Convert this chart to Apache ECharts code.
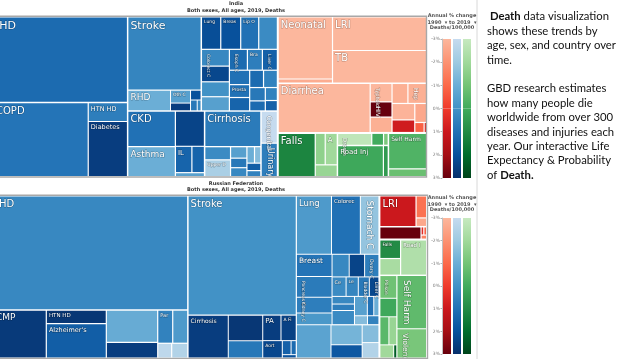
<!DOCTYPE html>
<html><head><meta charset="utf-8">
<script src="https://cdn.jsdelivr.net/npm/echarts@6/dist/echarts.min.js"></script>
<style>html,body{margin:0;padding:0;background:#fff;overflow:hidden}#c{width:638px;height:359px}</style>
</head><body><div id="c"></div>
<script>
// ---------------- DATA ----------------
// India, both sexes, all ages, 2019: deaths (relative units), annual % change 1990-2019, group path
const indiaNames = ['IHD','COPD','HTN HD','Diabetes',
 'Stroke','RHD','Oth Cardio','A Fib','Aort An','CMP','Endocar',
 'Lung C','Breast C','Lip Oral C','Oth Neo','Colorect C','Stomach C','Leukemia','Cervix C','Esoph C','Brain C','Liver C','Gallbladder C','Prostate C','Pancreas C','Ovary C','Lymphoma','Larynx C','Kidney C','Bladder C','Myeloma',
 'CKD','Asthma',"Alzheimer's",'ILD','Epilepsy','Pneumocon',
 'Cirrhosis','Ileus','Upper Digest','Oth Digest','Pancreatitis','Gallbladder','Hernia','Appendicitis','Vasc Intest','IBD',
 'Congenital','Urinary',
 'Neonatal','Maternal','LRI','TB',
 'Diarrhea','Typhoid','HIV','Malaria','Encephalitis','Hep','Nutri Def','Dengue','Oth Infect','Meningitis','Rabies',
 'Falls','Fire','Animal','Poison','Drown','Conflict','Oth Inj','Road Inj','Env Heat','Self Harm','Violence'];
const indiaDeaths = [10956,6720,708,2074,
 5146,852,250,150,100,70,40,
 600,620,560,580,450,420,400,380,360,300,300,280,250,260,230,230,200,150,150,120,
 1615,1372,978,418,318,110,
 1914,325,416,180,150,140,120,100,100,80,
 506,528,
 3240,216,3040,2945,
 4343,387,320,324,306,360,360,276,216,90,24,
 1560,306,370,252,406,140,56,1386,147,1320,286];
const indiaChange = [1.2,0.9,0.6,2.6,
 0.4,-1.0,-0.5,2.6,2.0,0.8,0.3,
 2.1,2.0,1.0,0.2,0.3,2.3,0.0,-0.5,1.2,0.6,1.5,1.0,1.0,1.4,1.2,0.5,0.8,1.2,0.5,1.5,
 1.0,-1.0,2.4,1.4,1.4,-0.5,
 0.7,0.2,-2.3,-0.5,0.8,0.3,-1.0,-1.5,1.6,0.5,
 -3,0.6,
 -3,-2.7,-3,-3,
 -3,-3,3,-2.8,-2.8,-2.8,-2.9,0.9,-2.6,-0.8,0.6,
 1.2,-1.6,-2.0,-1.8,-2.8,0.0,-1.2,0.1,0.5,-0.3,-0.8];
const indiaPath = [
 'NCD','NCD>LL','NCD>LL>Upper','NCD>LL>Upper',
 'NCD>StrokeG','NCD>StrokeG>CvdSmall','NCD>StrokeG>CvdSmall','NCD>StrokeG>CvdSmall','NCD>StrokeG>CvdSmall','NCD>StrokeG>CvdSmall','NCD>StrokeG>CvdSmall',
 'NCD>Neo','NCD>Neo','NCD>Neo','NCD>Neo','NCD>Neo','NCD>Neo','NCD>Neo','NCD>Neo','NCD>Neo','NCD>Neo','NCD>Neo','NCD>Neo','NCD>Neo','NCD>Neo','NCD>Neo','NCD>Neo','NCD>Neo','NCD>Neo','NCD>Neo','NCD>Neo',
 'NCD>CKDA','NCD>CKDA','NCD>CKDA','NCD>CKDA','NCD>CKDA','NCD>CKDA',
 'NCD>Digest','NCD>Digest','NCD>Digest','NCD>Digest','NCD>Digest','NCD>Digest','NCD>Digest','NCD>Digest','NCD>Digest','NCD>Digest',
 'NCD>Oth','NCD>Oth',
 'Comm>Top>NeoMat','Comm>Top>NeoMat','Comm>Top>LRITB','Comm>Top>LRITB',
 'Comm>Bottom','Comm>Bottom','Comm>Bottom','Comm>Bottom','Comm>Bottom','Comm>Bottom','Comm>Bottom','Comm>Bottom','Comm>Bottom','Comm>Bottom','Comm>Bottom',
 'Inj>FallsG','Inj>FallsG','Inj>FallsG','Inj>FallsG','Inj>DrownG','Inj>DrownG','Inj>DrownG','Inj>RoadG','Inj>RoadG','Inj>SelfG','Inj>SelfG'];

// Russian Federation, both sexes, all ages, 2019
const russiaNames = ['IHD','CMP','HTN HD',"Alzheimer's",'COPD','Diabetes',"Parkinson's",'CKD','Oth Cardio','Asthma',
 'Stroke',
 'Cirrhosis','Alcohol Use','Pancreatitis','PAD','A Fib','Aort An','Ileus','Drug Use','Endocar',
 'Lung C','Colorect C','Stomach C','Breast C','Pancreas C','Kidney C','Prostate C','Larynx C','Esoph C','Ovary C','Cervix C','Leukemia','Bladder C','Liver C','Lip Oral C','Brain C','Oth Neo','Lymphoma','Myeloma','Skin C','Thyroid C','Mesothel',
 'Oth NCD','Upper Digest','Urinary','Skin','Congenital',
 'LRI','TB','URI','HIV','Hep','Meningitis','Oth Infect',
 'Falls','Drown','Road Inj','Poison','Fire','Env Heat','Other Inj','Alcohol Pois','Conflict','Self Harm','Violence'];
const russiaDeaths = [21294,2450,780,2000,1600,780,480,480,200,230,
 12402,
 1665,855,574,450,376,329,119,70,45,
 1972,1624,1044,760,713,546,400,374,336,312,264,230,208,180,165,140,306,240,120,96,112,98,
 1110,602,400,288,250,
 1100,230,90,510,23,23,23,
 380,340,900,380,310,250,220,180,40,1550,850];
const russiaChange = [0.3,2.7,2.8,1.6,-0.9,2.6,0.5,-0.3,-2.8,-2.5,
 0.0,
 2.6,2.8,0.8,2.6,2.5,2.3,1.5,1.2,2.0,
 -0.3,1.0,-1.8,0.9,0.7,0.6,-0.2,0.3,2.4,0.6,0.2,0.4,0.8,2.3,0.3,0.6,0.2,-0.5,1.0,-1.0,-1.5,0.5,
 -0.6,-1.2,1.8,-1.5,-2.5,
 1.0,-1.2,-2.6,3.0,0.4,-0.8,-1.6,
 1.0,-2.2,-2.4,-0.9,0.1,-0.5,-1.8,-2.0,2.4,-0.6,-1.1];
const russiaPath = [
 'NCD','NCD>LB','NCD>LB','NCD>LB','NCD>LB','NCD>LB','NCD>LB','NCD>LB','NCD>LB','NCD>LB',
 'NCD>Rest',
 'NCD>Rest>BM','NCD>Rest>BM','NCD>Rest>BM','NCD>Rest>BM','NCD>Rest>BM','NCD>Rest>BM','NCD>Rest>BM','NCD>Rest>BM','NCD>Rest>BM',
 'NCD>Rest>Neo','NCD>Rest>Neo','NCD>Rest>Neo','NCD>Rest>Neo','NCD>Rest>Neo','NCD>Rest>Neo','NCD>Rest>Neo','NCD>Rest>Neo','NCD>Rest>Neo','NCD>Rest>Neo','NCD>Rest>Neo','NCD>Rest>Neo','NCD>Rest>Neo','NCD>Rest>Neo','NCD>Rest>Neo','NCD>Rest>Neo','NCD>Rest>Neo','NCD>Rest>Neo','NCD>Rest>Neo','NCD>Rest>Neo','NCD>Rest>Neo','NCD>Rest>Neo',
 'NCD>Rest>NB','NCD>Rest>NB','NCD>Rest>NB','NCD>Rest>NB','NCD>Rest>NB',
 'Comm>RespG','Comm>RespG','Comm>RespG','Comm>HIVG','Comm>HIVG','Comm>HIVG','Comm>HIVG',
 'Inj>TopG','Inj>TopG','Inj>TopG','Inj>BottomG>LeftSmall','Inj>BottomG>LeftSmall','Inj>BottomG>LeftSmall','Inj>BottomG>LeftSmall','Inj>BottomG>LeftSmall','Inj>BottomG>LeftSmall','Inj>BottomG>SelfG','Inj>BottomG>SelfG'];

// colour-scale legend
const legendCats = ['Communicable','Non-communicable','Injuries'];
const legendTicks = ['-3%','-2%','-1%','0%','1%','2%','3%'];
const legendMin = -3, legendMax = 3;

// ---------------- STYLE CONFIG ----------------
const palettes = {
  Comm: ['#fcb79d','#fc9272','#fb6a4a','#ef3b2c','#cb181d','#a50f15','#67000d'],
  NCD:  ['#c6dbef','#9ecae1','#6baed6','#4292c6','#2171b5','#08519c','#08306b'],
  Inj:  ['#c7e9c0','#a1d99b','#74c476','#41ab5d','#238b45','#006d2c','#00441b']
};
const indiaLabel = {'IHD':11,'Stroke':11,'HTN HD':6.5,'Diabetes':6.5,'RHD':9,'Oth Cardio':4.5,'A Fib':4.5,'Lung C':4.5,'Breast C':4.5,'Brain C':4.5,'Prostate C':4.5,'Lip Oral C':4.5,
 'CKD':10,'COPD':10,'Asthma':9,'ILD':7,'Cirrhosis':10,'Upper Digest':4.5,'Ileus':9,
 'Neonatal':10,'LRI':10,'TB':10,'Diarrhea':10,'Falls':10,'Animal':7,'Road Inj':7,'Self Harm':6};
const indiaRot = {'Urinary':8,'Congenital':6.5,'HIV':6,'Typhoid':5,'Hep':6,'Drown':5.5,'Colorect C':4.5,'Liver C':4.5,'Esoph C':4.5};
const russiaLabel = {'IHD':10,'Stroke':10,'HTN HD':5.5,'CMP':9,'A Fib':4.5,'Aort An':4.5,'PAD':7,'Lung C':8.5,'Colorect C':5.5,'Breast C':7.5,
 'Leukemia':4.5,'Brain C':4.5,'Cervix C':5,'Lip Oral C':4.5,'Cirrhosis':6,"Alzheimer's":6.5,"Parkinson's":5,'LRI':10,'HIV':10,'Falls':4.5,'Road Inj':5.5};
const russiaRot = {'Stomach C':9,'Self Harm':9,'Violence':7.5,'Pancreas C':4.5,'Ovary C':5,'Bladder C':4.5,'Kidney C':4.5,'Liver C':5,'Poison':4.5};

function hexRgb(h){const n=parseInt(h.slice(1),16);return [n>>16&255,n>>8&255,n&255];}
function colorFor(pal,v){
  const t=Math.max(0,Math.min(6,v-legendMin));const i=Math.min(5,Math.floor(t));const f=t-i;
  const a=hexRgb(pal[i]),b=hexRgb(pal[i+1]);
  return 'rgb('+a.map((x,k)=>Math.round(x+(b[k]-x)*f)).join(',')+')';
}
function buildTree(names,deaths,change,paths,labs,rots){
  const root={children:[]};
  names.forEach((n,i)=>{
    const parts=paths[i].split('>');
    let node=root;
    parts.forEach(g=>{
      let c=node.children.find(x=>x.children&&x.name===g);
      if(!c){c={name:g,children:[]};node.children.push(c);}
      node=c;
    });
    const leaf={name:n,value:deaths[i],itemStyle:{color:colorFor(palettes[parts[0]],change[i])}};
    if(labs[n]) leaf.label={show:true,fontSize:labs[n],lineHeight:labs[n]*1.15};
    else if(rots[n]) leaf.label={show:true,fontSize:rots[n],lineHeight:rots[n]*1.15,rotate:-90,position:[1.5,2],align:'left',verticalAlign:'bottom',overflow:'none'};
    node.children.push(leaf);
  });
  return root.children;
}

const levels=[
  {itemStyle:{borderWidth:0,gapWidth:2,borderColor:'#fff'}},
  {itemStyle:{borderWidth:0,gapWidth:1.5,borderColor:'#fff'}},
  {itemStyle:{borderWidth:0,gapWidth:1.2,borderColor:'#fff'}},
  {itemStyle:{borderWidth:0,gapWidth:1,borderColor:'#fff'}},
  {itemStyle:{borderWidth:0,gapWidth:1,borderColor:'#fff'}},
  {itemStyle:{borderWidth:0,gapWidth:1,borderColor:'#fff'}}
];
function treemap(data,top,height,ratio){
  return {type:'treemap',left:-6,top:top,width:432,height:height,roam:false,nodeClick:false,silent:true,
    sort:false,squareRatio:ratio,breadcrumb:{show:false},levels:levels,
    label:{show:false,position:'insideTopLeft',color:'#fff',fontFamily:'DejaVu Sans',padding:[2,2],
      textBorderColor:'rgba(0,0,0,0.28)',textBorderWidth:1,overflow:'truncate',ellipsis:''},
    upperLabel:{show:false},data:data};
}
function grad(pal,neg){
  const s=neg?pal.slice(0,4):pal.slice(3,7);
  return new echarts.graphic.LinearGradient(0,0,0,1,s.map((c,i)=>({offset:i/3,color:c})));
}
const palList=[palettes.Comm,palettes.NCD,palettes.Inj];
function legendSeries(g){
  return [true,false].map(neg=>({type:'bar',xAxisIndex:g,yAxisIndex:g,stack:'lg'+g,barWidth:8,silent:true,
    data:legendCats.map((c,i)=>({value:neg?legendMin:legendMax,itemStyle:{color:grad(palList[i],neg)}}))}));
}
function yAx(g){
  return {type:'value',gridIndex:g,min:legendMin,max:legendMax,interval:1,inverse:true,
    axisLabel:{formatter:v=>legendTicks[v-legendMin],fontSize:4.5,color:'#777',margin:2,fontFamily:'DejaVu Sans'},
    axisLine:{show:true,lineStyle:{color:'#b0b0b0',width:0.8}},axisTick:{show:true,length:1.5,lineStyle:{color:'#b0b0b0'}},splitLine:{show:false}};
}
const hdrStyle={fontSize:5,fontWeight:'bold',fill:'#555',fontFamily:'DejaVu Sans',align:'center'};
function hdr(y){
  return [
    {type:'text',x:452,y:y,style:Object.assign({text:'Annual % change'},hdrStyle)},
    {type:'text',x:452,y:y+7,style:Object.assign({text:'1990  \u25BE to 2019  \u25BE'},hdrStyle)},
    {type:'text',x:452,y:y+12,style:Object.assign({text:'Deaths/100,000'},hdrStyle)}
  ];
}

const chart=echarts.init(document.getElementById('c'),null,{renderer:'canvas'});
chart.setOption({
  animation:false,
  title:[
    {text:'India',subtext:'Both sexes, All ages, 2019, Deaths',left:236,top:1.5,textAlign:'center',padding:0,itemGap:1.5,
      textStyle:{fontSize:5,fontWeight:'bold',color:'#333',fontFamily:'DejaVu Sans'},subtextStyle:{fontSize:5,fontWeight:'bold',color:'#333',fontFamily:'DejaVu Sans'}},
    {text:'Russian Federation',subtext:'Both sexes, All ages, 2019, Deaths',left:236,top:181,textAlign:'center',padding:0,itemGap:1.5,
      textStyle:{fontSize:5,fontWeight:'bold',color:'#333',fontFamily:'DejaVu Sans'},subtextStyle:{fontSize:5,fontWeight:'bold',color:'#333',fontFamily:'DejaVu Sans'}}
  ],
  grid:[{left:442,top:39,width:30,height:139},{left:442,top:218,width:30,height:136}],
  xAxis:[{type:'category',gridIndex:0,data:legendCats,show:false},{type:'category',gridIndex:1,data:legendCats,show:false}],
  yAxis:[yAx(0),yAx(1)],
  series:[
    treemap(buildTree(indiaNames,indiaDeaths,indiaChange,indiaPath,indiaLabel,indiaRot),17.5,158.5,0.5*(1+Math.sqrt(5))),
    treemap(buildTree(russiaNames,russiaDeaths,russiaChange,russiaPath,russiaLabel,russiaRot),196.5,161,1.95)
  ].concat(legendSeries(0),legendSeries(1)),
  graphic:[
    {type:'rect',shape:{x:-10,y:16.2,width:436.5,height:160.8},style:{fill:'none',stroke:'#a8a8a8',lineWidth:1.4},z:100},
    {type:'rect',shape:{x:-10,y:195.2,width:437.5,height:163.3},style:{fill:'none',stroke:'#a8a8a8',lineWidth:1.4},z:100},
    {type:'line',shape:{x1:477,y1:0,x2:477,y2:359},style:{stroke:'#d8d8d8',lineWidth:1}},
    ...hdr(13.5),...hdr(195.5),
    {type:'text',x:487,y:9.5,style:{text:' {b|Death} data visualization\nshows these trends by\nage, sex, and country over\ntime.\n\nGBD research estimates\nhow many people die\nworldwide from over 300\ndiseases and injuries each\nyear. Our interactive Life\nExpectancy & Probability\nof {b|Death.}',
      fontSize:11.3,fontFamily:'Lato',lineHeight:14.4,fill:'#111',
      rich:{b:{fontSize:11.3,fontFamily:'Lato',fontWeight:'bold',lineHeight:14.4,fill:'#111'}}}}
  ]
});
</script></body></html>
